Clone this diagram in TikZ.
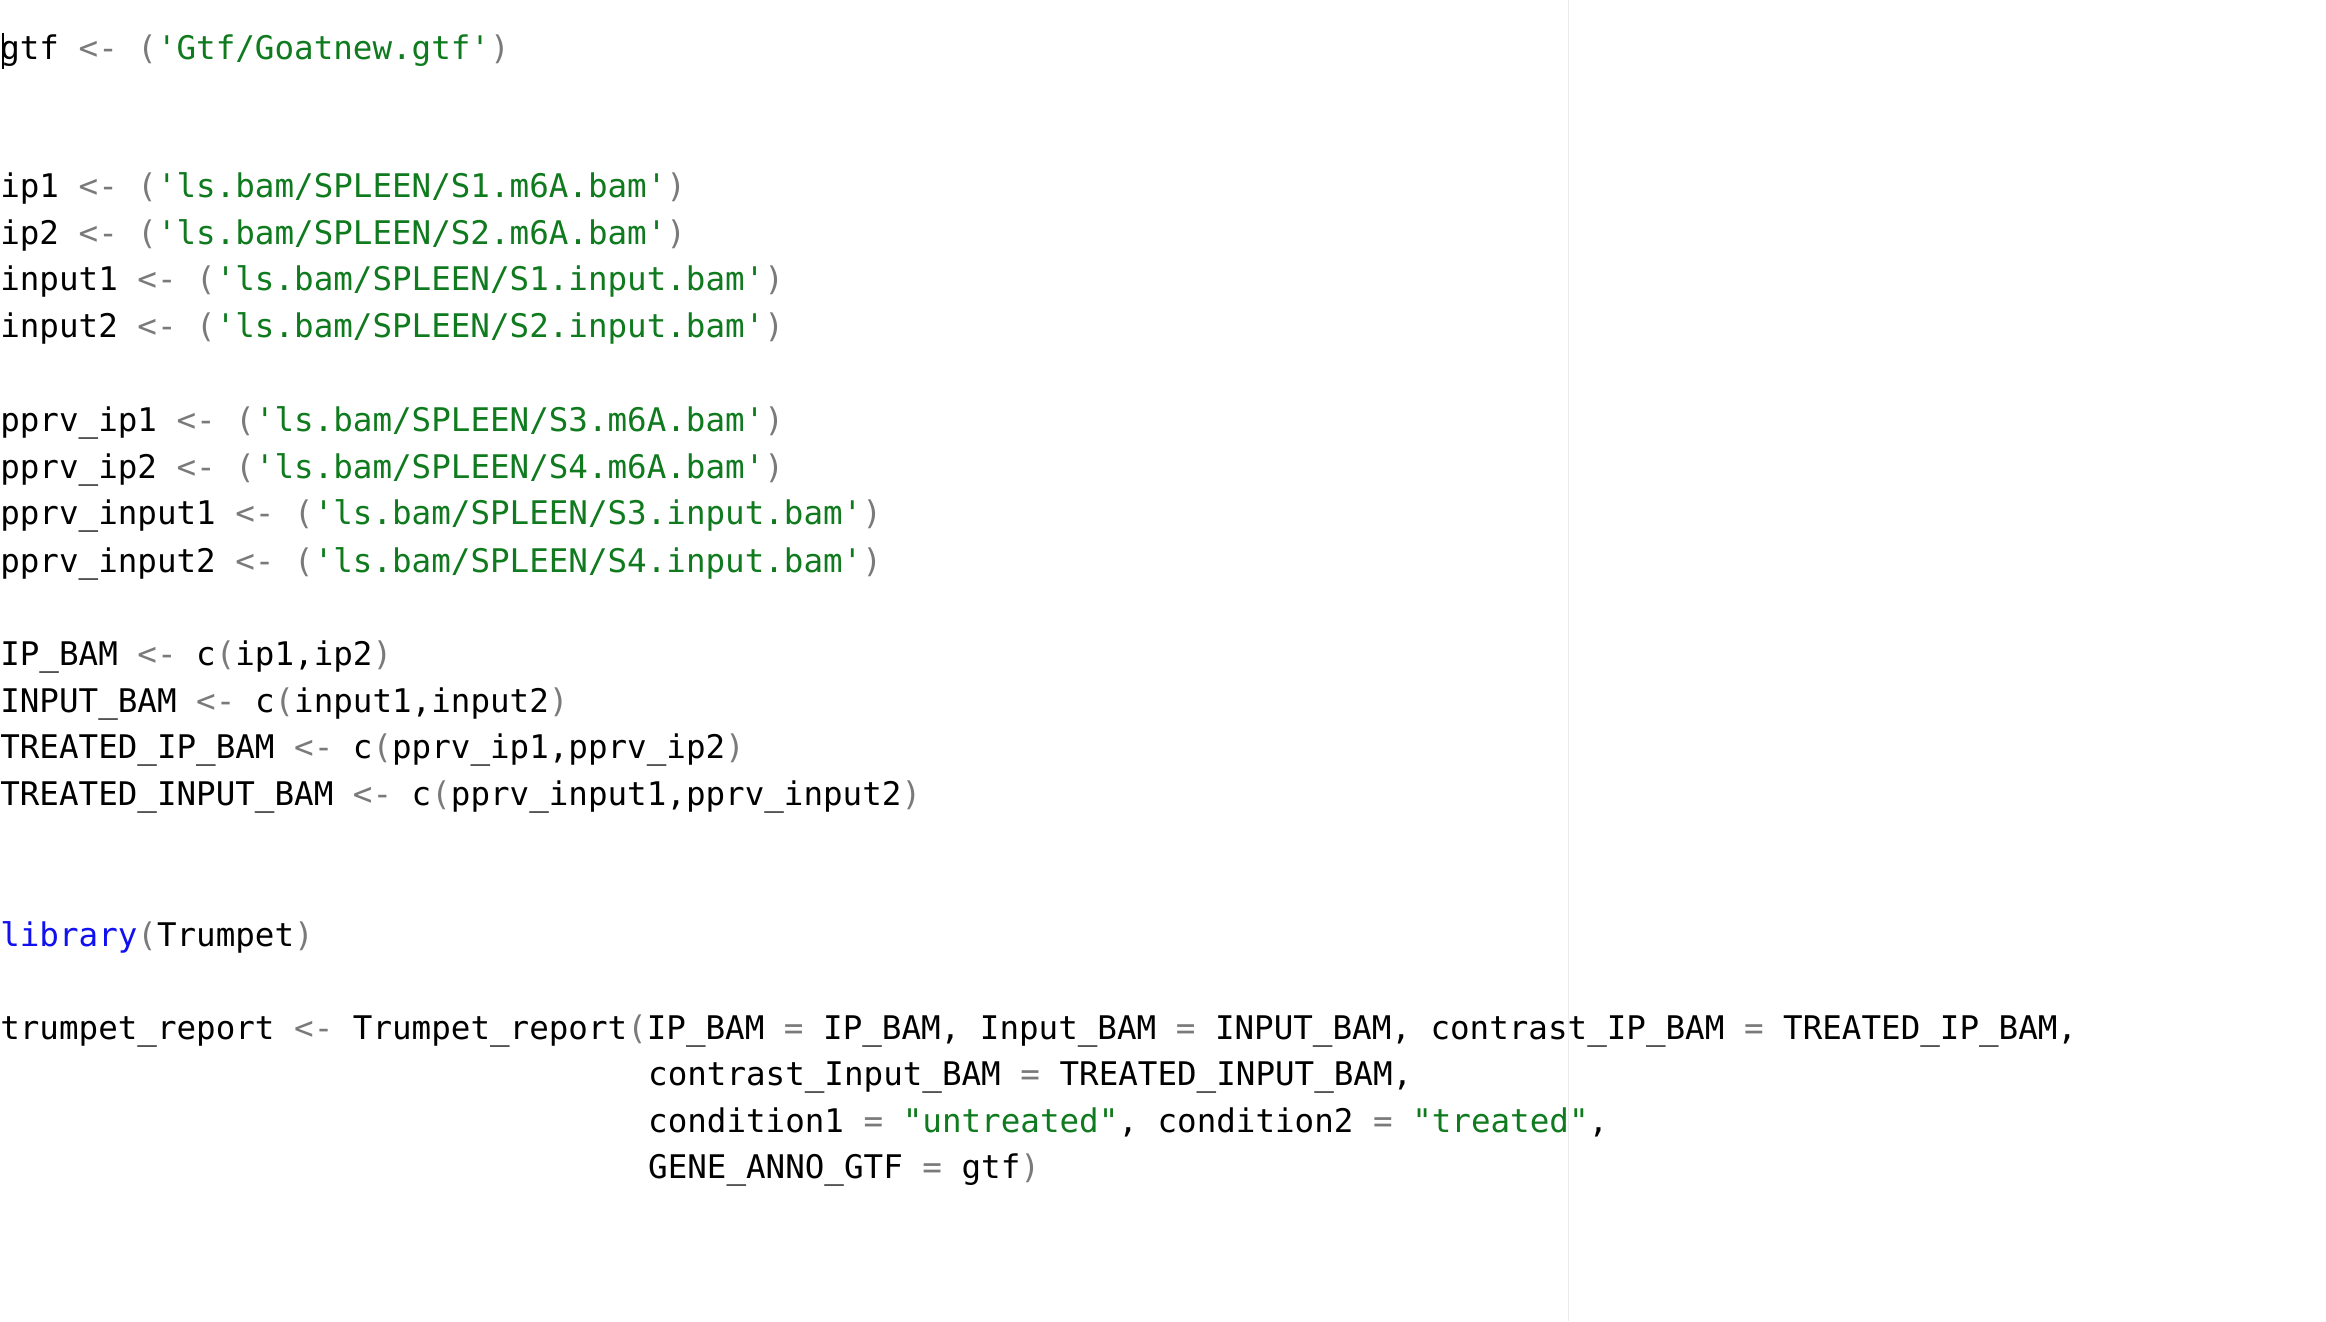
\documentclass[tikz,border=0pt]{standalone}
\usepackage{fontspec}
\newfontfamily\cf{DejaVu Sans Mono}
\definecolor{opc}{HTML}{7A7A7A}
\definecolor{strc}{HTML}{0F7A1E}
\definecolor{kwc}{HTML}{1010F0}
\newcommand\op[1]{\textcolor{opc}{#1}}
\newcommand\st[1]{\textcolor{strc}{#1}}
\newcommand\kw[1]{\textcolor{kwc}{#1}}
\begin{document}
\begin{tikzpicture}[x=1pt,y=-1pt,
  codeline/.style={anchor=base west,inner sep=0pt,font=\cf\fontsize{21.7}{26}\selectfont}]
\useasboundingbox (0,0) rectangle (1551,881);
\fill[white] (0,0) rectangle (1551,881);
\draw[black!8,line width=1pt] (1046,0) -- (1046,881);
\draw[black,line width=1pt] (2,22) -- (2,46);
\node[codeline] (l1) at (0,40) {gtf \op{<- (}\st{'Gtf/Goatnew.gtf'}\op{)}};
\node[codeline] (l2) at (0,132) {ip1 \op{<- (}\st{'ls.bam/SPLEEN/S1.m6A.bam'}\op{)}};
\node[codeline] (l3) at (0,163) {ip2 \op{<- (}\st{'ls.bam/SPLEEN/S2.m6A.bam'}\op{)}};
\node[codeline] (l4) at (0,194) {input1 \op{<- (}\st{'ls.bam/SPLEEN/S1.input.bam'}\op{)}};
\node[codeline] (l5) at (0,225) {input2 \op{<- (}\st{'ls.bam/SPLEEN/S2.input.bam'}\op{)}};
\node[codeline] (l6) at (0,288) {pprv\_ip1 \op{<- (}\st{'ls.bam/SPLEEN/S3.m6A.bam'}\op{)}};
\node[codeline] (l7) at (0,319) {pprv\_ip2 \op{<- (}\st{'ls.bam/SPLEEN/S4.m6A.bam'}\op{)}};
\node[codeline] (l8) at (0,350) {pprv\_input1 \op{<- (}\st{'ls.bam/SPLEEN/S3.input.bam'}\op{)}};
\node[codeline] (l9) at (0,382) {pprv\_input2 \op{<- (}\st{'ls.bam/SPLEEN/S4.input.bam'}\op{)}};
\node[codeline] (l10) at (0,444) {IP\_BAM \op{<-} c\op{(}ip1,ip2\op{)}};
\node[codeline] (l11) at (0,475) {INPUT\_BAM \op{<-} c\op{(}input1,input2\op{)}};
\node[codeline] (l12) at (0,506) {TREATED\_IP\_BAM \op{<-} c\op{(}pprv\_ip1,pprv\_ip2\op{)}};
\node[codeline] (l13) at (0,537) {TREATED\_INPUT\_BAM \op{<-} c\op{(}pprv\_input1,pprv\_input2\op{)}};
\node[codeline] (l14) at (0,631) {\kw{library}\op{(}Trumpet\op{)}};
\node[codeline] (l15) at (0,693) {trumpet\_report \op{<-} Trumpet\_report\op{(}IP\_BAM \op{=} IP\_BAM, Input\_BAM \op{=} INPUT\_BAM, contrast\_IP\_BAM \op{=} TREATED\_IP\_BAM,};
\node[codeline] (l16) at (432,724) {contrast\_Input\_BAM \op{=} TREATED\_INPUT\_BAM,};
\node[codeline] (l17) at (432,755) {condition1 \op{=} \st{"untreated"}, condition2 \op{=} \st{"treated"},};
\node[codeline] (l18) at (432,786) {GENE\_ANNO\_GTF \op{=} gtf\op{)}};
\end{tikzpicture}
\end{document}
